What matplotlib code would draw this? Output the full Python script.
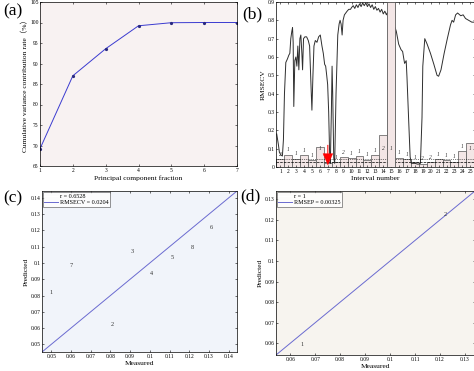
"""四格圖: PCA 累積貢獻率 / iPLS 區間 / 校正與預測"""
import numpy as np
import matplotlib
matplotlib.use('Agg')
import matplotlib.pyplot as plt

plt.rcParams['font.family'] = ['Liberation Serif', 'Noto Sans CJK SC']
plt.rcParams['xtick.direction'] = 'in'
plt.rcParams['ytick.direction'] = 'in'
plt.rcParams['xtick.major.size'] = 1.5
plt.rcParams['ytick.major.size'] = 1.5
plt.rcParams['xtick.major.width'] = 0.4
plt.rcParams['ytick.major.width'] = 0.4
plt.rcParams['axes.linewidth'] = 0.5
plt.rcParams['xtick.labelsize'] = 4.0
plt.rcParams['ytick.labelsize'] = 4.0
plt.rcParams['xtick.major.pad'] = 1.5
plt.rcParams['ytick.major.pad'] = 1.0

# (a) 主成分累積貢獻率
pc_num = [1, 2, 3, 4, 5, 6, 7]
cum_rate = [69.2, 87.0, 93.6, 99.2, 99.95, 100.0, 100.0]

# (b) 各區間 RMSECV 與主成分數
intervals = list(range(1, 26))
interval_rmsecv = [0.045, 0.068, 0.046, 0.064, 0.037, 0.110, 0.020, 0.028, 0.055, 0.048,
                   0.058, 0.040, 0.064, 0.172, 0.900, 0.051, 0.042, 0.027, 0.018, 0.025,
                   0.045, 0.036, 0.030, 0.085, 0.130]
interval_lv = ['2', '1', '1', '1', '1', '1', '', '1', '2', '1', '1', '1', '1', '2', '1',
               '1', '1', '1', '2', '2', '1', '1', '1', '1', '1']
global_rmsecv = 0.025
mean_rmsecv = 0.045
best_interval = 7

# (b) 變數 RMSECV 曲線 (以區間座標表示)
curve_x = [0.53, 0.75, 0.87, 1.08, 1.25, 1.38, 1.51, 1.68, 1.89, 2.06, 2.19, 2.31, 2.44,
           2.53, 2.61, 2.69, 2.82, 2.95, 3.08, 3.20, 3.33, 3.46, 3.58, 3.71, 3.80, 3.92,
           4.09, 4.31, 4.52, 4.69, 4.86, 4.98, 5.11, 5.24, 5.41, 5.62, 5.83, 6.04, 6.25,
           6.42, 6.59, 6.72, 6.85, 6.97, 7.10, 7.23, 7.31, 7.44, 7.53, 7.61, 7.74, 7.86,
           8.03, 8.25, 8.42, 8.54, 8.67, 8.80, 8.92, 9.09, 9.26, 9.43, 9.64, 9.86,
           10.0, 10.2, 10.4, 10.6, 10.8, 11.0, 11.2, 11.4, 11.6, 11.8, 12.0, 12.2, 12.4,
           12.6, 12.8, 13.0, 13.2, 13.4, 13.6, 13.8, 14.0, 14.2, 14.4, 14.5, 15.0,
           15.5, 15.65, 15.95, 16.25, 16.45, 16.6, 16.7, 16.9, 17.0, 17.2, 17.4, 17.55,
           18.0, 18.4, 18.7, 18.9, 19.0, 19.25, 19.55, 19.97, 20.4, 20.8, 21.0, 21.3,
           21.7, 22.1, 22.5, 22.7, 22.9, 23.15, 23.4, 23.8, 24.1, 24.4, 24.8, 25.2, 25.6]
curve_y = [0.18, 0.12, 0.08, 0.065, 0.06, 0.15, 0.40, 0.57, 0.59, 0.61, 0.62, 0.70, 0.74,
           0.76, 0.68, 0.33, 0.58, 0.60, 0.55, 0.66, 0.53, 0.70, 0.72, 0.62, 0.53, 0.70,
           0.71, 0.71, 0.69, 0.66, 0.45, 0.31, 0.50, 0.66, 0.69, 0.68, 0.71, 0.72, 0.66,
           0.62, 0.56, 0.55, 0.50, 0.45, 0.30, 0.05, 0.02, 0.30, 0.55, 0.40, 0.05, 0.02,
           0.40, 0.72, 0.78, 0.80, 0.78, 0.72, 0.80, 0.83, 0.84, 0.85, 0.86, 0.86,
           0.87, 0.88, 0.865, 0.885, 0.87, 0.89, 0.875, 0.895, 0.88, 0.895, 0.875, 0.89, 0.87,
           0.885, 0.86, 0.875, 0.855, 0.865, 0.845, 0.86, 0.835, 0.85, 0.83, 0.84, np.nan,
           0.76, 0.74, 0.67, 0.64, 0.63, 0.59, 0.565, 0.58, 0.49, 0.27, 0.055, 0.02,
           0.02, 0.015, 0.02, 0.27, 0.55, 0.70, 0.67, 0.62, 0.56, 0.50, 0.495, 0.53,
           0.62, 0.70, 0.775, 0.80, 0.79, 0.83, 0.84, 0.825, 0.83, 0.81, 0.80, 0.79, 0.79]

# (c) 校正集
cal_measured = [0.050, 0.0807, 0.0909, 0.1010, 0.1111, 0.1314, 0.0601, 0.1213]
cal_predicted = [0.0817, 0.0619, 0.1069, 0.0934, 0.1034, 0.1218, 0.0986, 0.1097]
cal_r = 0.6528
cal_rmsecv = 0.0204

# (d) 預測集
pred_measured = [0.0647, 0.1221]
pred_predicted = [0.0594, 0.1227]
pred_r = 1
pred_rmsep = 0.00325

W, H = 474, 371
fig = plt.figure(figsize=(W / 100, H / 100), dpi=100)


def px_axes(left, top, right, bottom):
    return fig.add_axes([left / W, 1 - bottom / H, (right - left) / W, (bottom - top) / H])


lab_kw = dict(fontsize=5.4, labelpad=1.5)
tag_kw = dict(fontsize=12.5, ha='left', va='top')

# (a)
ax_a = px_axes(40, 2, 237, 166)
ax_a.set_facecolor('#f8f2f2')
ax_a.plot(pc_num, cum_rate, color='#3b3bd0', linewidth=0.7, marker='o', markersize=1.3,
          markerfacecolor='#2a2a80', markeredgecolor='#2a2a80')
ax_a.set_xlim(1, 7)
ax_a.set_ylim(65, 105)
ax_a.set_yticks(range(65, 106, 5))
ax_a.set_xlabel('Principal component fraction', **lab_kw)
ax_a.set_ylabel('Cumulative variance contribution rate（%）', **lab_kw)
ax_a.tick_params(top=True, right=True)
fig.text(3 / W, 1 - 3 / H, '(a)', **tag_kw)

# (b)
ax_b = px_axes(276, 2, 475, 167)
ax_b.bar(intervals, interval_rmsecv, width=1.0, color='#f3e6e6', edgecolor='#555555',
         linewidth=0.5, zorder=1)
ax_b.plot(curve_x, curve_y, color='#2e2e2e', linewidth=0.7, zorder=2)
ax_b.bar(intervals[14], interval_rmsecv[14], width=1.0, color='#f3e6e6',
         edgecolor='#555555', linewidth=0.5, zorder=3)
for xi, h, lv in zip(intervals, interval_rmsecv, interval_lv):
    ty = h + 0.012 if h < 0.1 else 0.09
    ax_b.text(xi, ty, lv, fontsize=4.0, style='italic', ha='center', va='bottom',
              color='#333333', zorder=4)
ax_b.axhline(global_rmsecv, color='black', linestyle='--', linewidth=0.5, zorder=2)
ax_b.axhline(mean_rmsecv, color='black', linestyle=':', linewidth=0.5, zorder=2)
ax_b.annotate('', xy=(best_interval, 0.012), xytext=(best_interval, 0.12),
              arrowprops=dict(facecolor='red', edgecolor='red', width=0.3,
                              headwidth=7, headlength=8, linewidth=0.3), zorder=5)
ax_b.set_xlim(0.44, 25.6)
ax_b.set_ylim(0, 0.9)
ax_b.set_xticks(intervals)
ax_b.set_yticks(np.arange(0, 0.91, 0.1))
ax_b.set_yticklabels(['0', '0.1', '0.2', '0.3', '0.4', '0.5', '0.6', '0.7', '0.8', '0.9'])
ax_b.set_xlabel('Interval number', **lab_kw)
ax_b.set_ylabel('RMSECV', **lab_kw)
ax_b.tick_params(top=True, right=True)
fig.text(242 / W, 1 - 6 / H, '(b)', **tag_kw)

# (c)
ax_c = px_axes(42, 191, 237, 352)
ax_c.set_facecolor('#f1f4fa')
c_lim = (0.0453, 0.1442)
ax_c.plot([], [], color='white', linewidth=0.8, label=f'r = {cal_r}')
ax_c.plot(c_lim, c_lim, color='#6a6ad0', linewidth=0.7, label=f'RMSECV = {cal_rmsecv}')
for i, (mx, py) in enumerate(zip(cal_measured, cal_predicted), start=1):
    ax_c.text(mx, py, str(i), fontsize=4.5, ha='center', va='center', color='#333333')
ax_c.set_xlim(c_lim)
ax_c.set_ylim(c_lim)
ax_c.set_xticks(np.arange(0.05, 0.141, 0.01))
ax_c.set_yticks(np.arange(0.05, 0.141, 0.01))
ax_c.set_xticklabels(['0.05', '0.06', '0.07', '0.08', '0.09', '0.1', '0.11', '0.12', '0.13', '0.14'])
ax_c.set_yticklabels(['0.05', '0.06', '0.07', '0.08', '0.09', '0.1', '0.11', '0.12', '0.13', '0.14'])
ax_c.set_xlabel('Measured', **lab_kw)
ax_c.set_ylabel('Predicted', **lab_kw)
ax_c.tick_params(top=True, right=True)
leg = ax_c.legend(loc='upper left', fontsize=4.4, frameon=True, fancybox=False,
                  borderpad=0.3, handlelength=2.2, handletextpad=0.3, labelspacing=0.2,
                  borderaxespad=0.1, facecolor='white', edgecolor='#444444')
leg.get_frame().set_linewidth(0.5)
fig.text(3 / W, 1 - 190 / H, '(c)', **tag_kw)

# (d)
ax_d = px_axes(276, 191, 475, 355)
ax_d.set_facecolor('#f7f4ef')
d_lim = (0.0543, 0.134)
ax_d.plot([], [], color='white', linewidth=0.8, label=f'r = {pred_r}')
ax_d.plot(d_lim, d_lim, color='#6a6ad0', linewidth=0.7, label=f'RMSEP = {pred_rmsep}')
for i, (mx, py) in enumerate(zip(pred_measured, pred_predicted), start=1):
    ax_d.text(mx, py, str(i), fontsize=4.5, ha='center', va='center', color='#333333')
ax_d.set_xlim(d_lim)
ax_d.set_ylim(d_lim)
ax_d.set_xticks(np.arange(0.06, 0.131, 0.01))
ax_d.set_yticks(np.arange(0.06, 0.131, 0.01))
ax_d.set_xticklabels(['0.06', '0.07', '0.08', '0.09', '0.1', '0.11', '0.12', '0.13'])
ax_d.set_yticklabels(['0.06', '0.07', '0.08', '0.09', '0.1', '0.11', '0.12', '0.13'])
ax_d.set_xlabel('Measured', **lab_kw)
ax_d.set_ylabel('Predicted', **lab_kw)
ax_d.tick_params(top=True, right=True)
leg = ax_d.legend(loc='upper left', fontsize=4.4, frameon=True, fancybox=False,
                  borderpad=0.3, handlelength=2.2, handletextpad=0.3, labelspacing=0.2,
                  borderaxespad=0.1, facecolor='white', edgecolor='#444444')
leg.get_frame().set_linewidth(0.5)
fig.text(240 / W, 1 - 188 / H, '(d)', **tag_kw)

fig.savefig('out.png', dpi=100)
